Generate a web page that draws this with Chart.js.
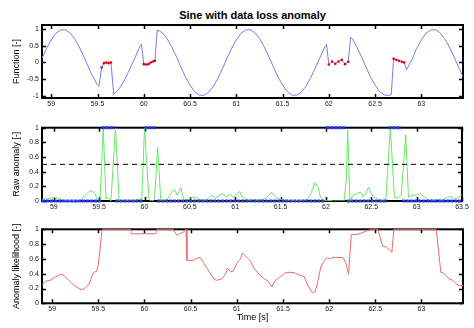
<!DOCTYPE html>
<html>
<head>
<meta charset="utf-8">
<script src="https://cdn.jsdelivr.net/npm/chart.js@4"></script>
<style>
  body { margin: 0; background: #fff; }
  #wrap { position: relative; width: 474px; height: 328px; }
  #wrap canvas { position: absolute; left: 0; }
  #title {
    position: absolute; left: 42px; width: 421px; top: 9px;
    text-align: center; font: bold 11px "Liberation Sans", Arial, sans-serif;
    line-height: 13px; color: #000;
  }
</style>
</head>
<body>
<div id="wrap">
  <div id="title">Sine with data loss anomaly</div>
  <canvas id="c1" width="474" height="110" style="top:0px"></canvas>
  <canvas id="c2" width="474" height="105" style="top:110px"></canvas>
  <canvas id="c3" width="474" height="113" style="top:215px"></canvas>
</div>
<script>
// top panel: the sine, samples that were not lost
const fnTime = [58.90, 58.95, 59.00, 59.05, 59.10, 59.15, 59.20, 59.25, 59.30, 59.35, 59.40, 59.45, 59.50, 59.515,
  59.675, 59.70, 59.75, 59.80, 59.85, 59.90, 59.95, 59.975,
  60.145, 60.20, 60.25, 60.30, 60.35, 60.40, 60.45, 60.50, 60.55, 60.60, 60.65, 60.70, 60.75, 60.80, 60.85,
  60.90, 60.95, 61.00, 61.05, 61.10, 61.15, 61.20, 61.25, 61.30, 61.35, 61.40, 61.45, 61.50, 61.55, 61.60,
  61.65, 61.70, 61.75, 61.80, 61.85, 61.90, 61.95, 61.975,
  62.235, 62.25, 62.30, 62.35, 62.40, 62.45, 62.50, 62.55, 62.60, 62.65, 62.675,
  62.84, 62.90, 62.95, 63.00, 63.05, 63.10, 63.15, 63.20, 63.25, 63.30, 63.35, 63.40, 63.45]
const fnValue = [0.13, 0.43, 0.68, 0.88, 0.98, 0.99, 0.9, 0.73, 0.48, 0.19, -0.13, -0.43, -0.68, -0.72,
  -0.95, -0.9, -0.73, -0.48, -0.19, 0.12, 0.43, 0.55,
  0.98, 0.9, 0.73, 0.48, 0.19, -0.13, -0.43, -0.68, -0.88, -0.98, -0.99, -0.9, -0.73, -0.48, -0.19,
  0.13, 0.43, 0.68, 0.88, 0.98, 0.99, 0.9, 0.73, 0.48, 0.19, -0.13, -0.43, -0.68, -0.88, -0.98,
  -0.99, -0.9, -0.73, -0.48, -0.19, 0.13, 0.43, 0.55,
  0.76, 0.73, 0.48, 0.19, -0.13, -0.43, -0.68, -0.88, -0.98, -0.99, -0.96,
  -0.22, 0.1, 0.43, 0.68, 0.88, 0.98, 0.99, 0.9, 0.73, 0.48, 0.19, -0.13, -0.43]

// lost samples (red dots)
const lossTime = [59.545, 59.57, 59.595, 59.62, 59.645,
  60.0, 60.025, 60.05, 60.075, 60.1, 60.12,
  62.0, 62.035, 62.07, 62.105, 62.14, 62.175, 62.21,
  62.7, 62.73, 62.76, 62.79, 62.815]
const lossValue = [-0.15, -0.02, 0.0, -0.02, 0.0,
  -0.05, -0.06, -0.05, 0.0, 0.03, 0.05,
  -0.06, 0.03, -0.04, 0.03, 0.08, -0.05, 0.02,
  0.11, 0.08, 0.05, 0.02, 0.0]

// middle panel: raw anomaly score
const rawTime = [58.87, 58.92, 58.97, 59.02, 59.06, 59.10, 59.15, 59.20, 59.25, 59.30, 59.35, 59.39, 59.42, 59.45,
  59.48, 59.51, 59.545, 59.575, 59.60, 59.63, 59.68, 59.72, 59.76, 59.80, 59.85, 59.90, 59.94, 59.97, 60.0,
  60.05, 60.08, 60.11, 60.145, 60.18, 60.22, 60.26, 60.30, 60.33, 60.36, 60.40, 60.43, 60.47, 60.52, 60.56,
  60.60, 60.65, 60.70, 60.74, 60.78, 60.82, 60.86, 60.90, 60.95, 60.98, 61.02, 61.05, 61.08, 61.12, 61.16,
  61.20, 61.25, 61.30, 61.35, 61.40, 61.44, 61.48, 61.52, 61.56, 61.60, 61.65, 61.70, 61.75, 61.80, 61.84,
  61.88, 61.91, 61.94, 61.97, 62.02, 62.08, 62.14, 62.20, 62.225, 62.24, 62.265, 62.30, 62.34, 62.38, 62.41,
  62.44, 62.47, 62.50, 62.53, 62.57, 62.62, 62.66, 62.71, 62.755, 62.79, 62.83, 62.88, 62.91, 62.95, 63.0,
  63.04, 63.08, 63.12, 63.18, 63.24, 63.28, 63.34, 63.38, 63.42, 63.47, 63.5]
const rawValue = [0.02, 0.03, 0.04, 0.05, 0.03, 0.01, 0.0, 0.01, 0.0, 0.01, 0.08, 0.13, 0.14, 0.1,
  0.02, 0.0, 1.0, 0.03, 0.05, 0.0, 1.0, 0.0, 0.0, 0.01, 0.0, 0.01, 0.03, 0.02, 1.0,
  0.02, 0.0, 0.02, 0.73, 0.0, 0.01, 0.03, 0.12, 0.16, 0.08, 0.18, 0.03, 0.01, 0.05, 0.05,
  0.02, 0.01, 0.02, 0.08, 0.04, 0.07, 0.1, 0.06, 0.09, 0.05, 0.1, 0.13, 0.05, 0.02, 0.01,
  0.02, 0.01, 0.02, 0.05, 0.12, 0.06, 0.03, 0.02, 0.01, 0.0, 0.01, 0.0, 0.01, 0.02, 0.12,
  0.25, 0.2, 0.05, 0.0, 0.01, 0.0, 0.0, 0.0, 0.3, 0.97, 0.0, 0.08, 0.1, 0.12, 0.06,
  0.1, 0.19, 0.1, 0.05, 0.03, 0.0, 0.02, 1.0, 0.05, 0.04, 0.08, 0.9, 0.05, 0.08, 0.08,
  0.1, 0.06, 0.02, 0.01, 0.02, 0.01, 0.05, 0.06, 0.03, 0.05, 0.09]

// thresholded flag (blue markers), as runs
const flagStart = [58.87, 59.53, 59.68, 60.0, 60.14, 62.0, 62.23, 62.69, 62.84]
const flagEnd   = [59.52, 59.67, 59.99, 60.13, 61.99, 62.22, 62.68, 62.83, 63.5]
const flagLevel = [0, 1, 0, 1, 0, 1, 0, 1, 0]
const threshold = 0.5

// bottom panel: anomaly likelihood
const likeTime = [58.89, 58.93, 58.98, 59.04, 59.09, 59.125, 59.18, 59.23, 59.29, 59.32, 59.36, 59.40, 59.43,
  59.45, 59.48, 59.50, 59.54, 59.56, 59.85, 59.86, 60.12, 60.135, 60.31, 60.35, 60.38, 60.42, 60.45, 60.46,
  60.53, 60.57, 60.60, 60.64, 60.69, 60.75, 60.78, 60.84, 60.88, 60.90, 60.93, 60.96, 61.00, 61.04, 61.06,
  61.10, 61.14, 61.20, 61.25, 61.30, 61.34, 61.38, 61.41, 61.47, 61.52, 61.58, 61.63, 61.68, 61.73, 61.77,
  61.82, 61.85, 61.88, 61.91, 61.95, 61.98, 62.01, 62.04, 62.15, 62.18, 62.21, 62.24, 62.30, 62.35, 62.41,
  62.46, 62.53, 62.55, 62.58, 62.62, 62.68, 62.70, 63.16, 63.21, 63.25, 63.30, 63.34, 63.38, 63.41, 63.45]
const likeValue = [0.25, 0.30, 0.31, 0.36, 0.39, 0.38, 0.31, 0.25, 0.20, 0.18, 0.21, 0.26, 0.36,
  0.42, 0.43, 0.52, 0.99, 1.0, 1.0, 0.94, 0.94, 1.0, 1.0, 0.92, 0.94, 0.96, 1.0, 0.58,
  0.58, 0.61, 0.62, 0.55, 0.45, 0.33, 0.31, 0.33, 0.40, 0.47, 0.43, 0.43, 0.54, 0.60, 0.68,
  0.63, 0.58, 0.45, 0.38, 0.33, 0.30, 0.22, 0.30, 0.36, 0.41, 0.42, 0.41, 0.38, 0.36, 0.24,
  0.14, 0.16, 0.31, 0.49, 0.58, 0.62, 0.60, 0.62, 0.62, 0.55, 0.39, 0.93, 0.93, 0.95, 0.98,
  1.0, 1.0, 0.90, 0.77, 0.76, 0.69, 1.0, 1.0, 0.42, 0.40, 0.33, 0.31, 0.26, 0.24, 0.24]

// tick labels
const timeTicks = [59, 59.5, 60, 60.5, 61, 61.5, 62, 62.5, 63]
const timeTicksRaw = [59, 59.5, 60, 60.5, 61, 61.5, 62, 62.5, 63, 63.5]
const fnTicks = [-1, -0.5, 0, 0.5, 1]
const unitTicks = [0, 0.2, 0.4, 0.6, 0.8, 1]

const FONT = '"Liberation Sans", Arial, Helvetica, sans-serif'

const pts = (xs, ys) => xs.map((x, i) => ({x: x, y: ys[i]}))

// matlab-ish box with inward ticks
const boxPlugin = {
  id: 'boxPlugin',
  beforeDatasetsDraw(chart) {
    const {ctx, chartArea: a, scales} = chart
    ctx.save()
    ctx.strokeStyle = '#000'
    ctx.lineWidth = 1.5
    ctx.beginPath()
    scales.x.ticks.forEach(t => {
      const p = Math.round(scales.x.getPixelForValue(t.value)) + 0.5
      ctx.moveTo(p, a.bottom); ctx.lineTo(p, a.bottom - 4)
      ctx.moveTo(p, a.top); ctx.lineTo(p, a.top + 4)
    })
    scales.y.ticks.forEach(t => {
      const p = Math.round(scales.y.getPixelForValue(t.value)) + 0.5
      ctx.moveTo(a.left, p); ctx.lineTo(a.left + 4, p)
      ctx.moveTo(a.right, p); ctx.lineTo(a.right - 4, p)
    })
    ctx.stroke()
    ctx.lineWidth = 2
    ctx.strokeRect(a.left, a.top, a.right - a.left, a.bottom - a.top)
    ctx.restore()
  }
}

const makeScales = (o) => ({
  x: {
    type: 'linear', min: o.xmin, max: o.xmax,
    grid: {display: false, drawTicks: false}, border: {display: false},
    afterBuildTicks: s => { s.ticks = o.xticks.map(v => ({value: v})) },
    afterFit: s => { s.height = o.xh },
    ticks: {color: '#222', font: {family: FONT, size: 7}, padding: 2, maxRotation: 0, autoSkip: false,
      callback: v => String(v)},
    title: o.xtitle ? {display: true, text: o.xtitle, color: '#000', font: {family: FONT, size: 9},
      padding: {top: 0, bottom: 5}} : {display: false}
  },
  y: {
    type: 'linear', min: o.ymin, max: o.ymax,
    grid: {display: false, drawTicks: false}, border: {display: false},
    afterBuildTicks: s => { s.ticks = o.yticks.map(v => ({value: v})) },
    afterFit: s => { s.width = o.yw },
    ticks: {color: '#222', font: {family: FONT, size: 7}, padding: 3, autoSkip: false,
      callback: v => String(v)},
    title: {display: true, text: o.ytitle, color: '#000', font: {family: FONT, size: 9},
      padding: {top: 4, bottom: 0}}
  }
})

const baseOpts = (pad, scales) => ({
  responsive: false,
  animation: false,
  devicePixelRatio: 1,
  layout: {padding: pad},
  plugins: {legend: {display: false}, tooltip: {enabled: false}},
  scales: scales
})

// panel 1
const sineLine = pts(fnTime, fnValue).concat(pts(lossTime, lossValue)).sort((a, b) => a.x - b.x)
new Chart(document.getElementById('c1'), {
  type: 'scatter',
  data: {
    datasets: [
      {data: pts(lossTime, lossValue), showLine: false, pointRadius: 1.3, pointBackgroundColor: '#d8001a',
        pointBorderWidth: 0},
      {data: sineLine, showLine: true, borderColor: '#7a7aec', borderWidth: 1, pointRadius: 0}
    ]
  },
  options: baseOpts({left: 7.6, top: 25, right: 11, bottom: 0},
    makeScales({xmin: 58.9, xmax: 63.45, xticks: timeTicks, xh: 12,
      ymin: -1.07, ymax: 1.13, yticks: fnTicks, yw: 34.4, ytitle: 'Function [-]'})),
  plugins: [boxPlugin]
})

// panel 2
const flagLine = []
flagStart.forEach((s, i) => {
  flagLine.push({x: s, y: flagLevel[i]}, {x: flagEnd[i], y: flagLevel[i]}, {x: flagEnd[i], y: null})
})
new Chart(document.getElementById('c2'), {
  type: 'scatter',
  data: {
    datasets: [
      {data: flagLine, showLine: true, spanGaps: false, borderColor: 'rgba(40,60,230,0.95)', borderWidth: 3,
        borderDash: [3, 1], pointRadius: 0, clip: 6},
      {data: pts([58.87, 63.5], [threshold, threshold]), showLine: true, borderColor: '#000', borderWidth: 1,
        borderDash: [5, 4], pointRadius: 0},
      {data: pts(rawTime, rawValue), showLine: true, borderColor: '#66e866', borderWidth: 1, pointRadius: 0}
    ]
  },
  options: baseOpts({left: 7.6, top: 17.7, right: 12, bottom: 0},
    makeScales({xmin: 58.87, xmax: 63.5, xticks: timeTicksRaw, xh: 14,
      ymin: 0, ymax: 1, yticks: unitTicks, yw: 34.4, ytitle: 'Raw anomaly [-]'})),
  plugins: [boxPlugin]
})

// panel 3
new Chart(document.getElementById('c3'), {
  type: 'scatter',
  data: {
    datasets: [
      {data: pts(likeTime, likeValue), showLine: true, borderColor: '#ec6a6a', borderWidth: 1, pointRadius: 0,
        clip: 2}
    ]
  },
  options: baseOpts({left: 7.6, top: 14.3, right: 11, bottom: 0},
    makeScales({xmin: 58.89, xmax: 63.45, xticks: timeTicks, xh: 24.7, xtitle: 'Time [s]',
      ymin: 0, ymax: 1, yticks: unitTicks, yw: 34.4, ytitle: 'Anomaly likelihood [-]'})),
  plugins: [boxPlugin]
})
</script>
</body>
</html>
